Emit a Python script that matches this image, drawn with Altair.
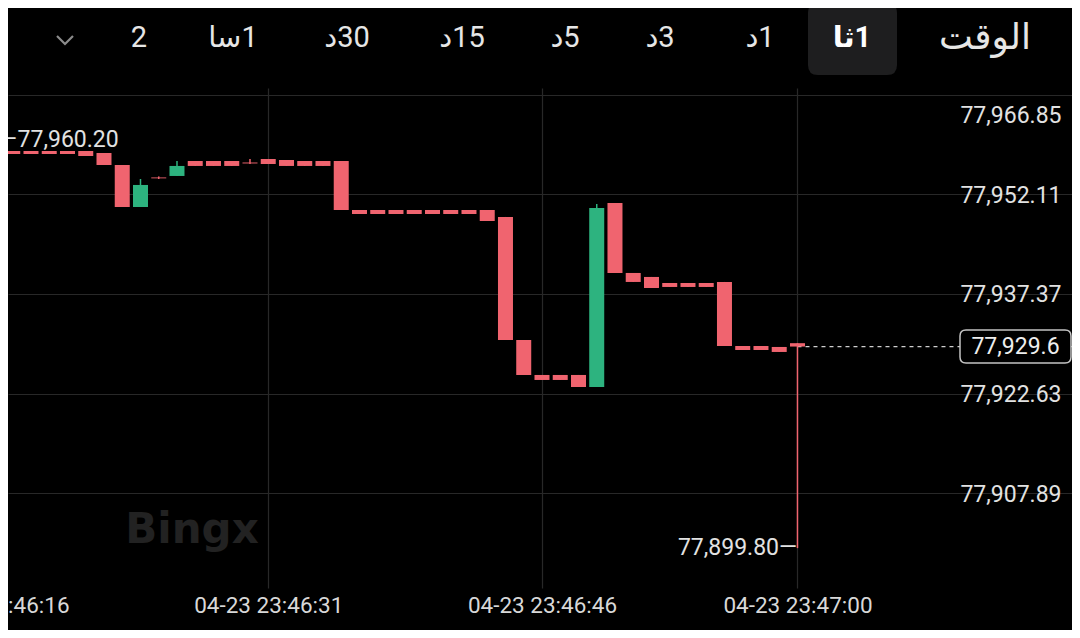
import altair as alt
import pandas as pd

# ---------------- data ----------------
DAY = "2024-04-23"
times = [
    "23:46:17", "23:46:18", "23:46:19", "23:46:20", "23:46:21", "23:46:22",
    "23:46:23", "23:46:24", "23:46:25", "23:46:26", "23:46:27", "23:46:28",
    "23:46:29", "23:46:30", "23:46:31", "23:46:32", "23:46:33", "23:46:34",
    "23:46:35", "23:46:36", "23:46:37", "23:46:38", "23:46:39", "23:46:40",
    "23:46:41", "23:46:42", "23:46:43", "23:46:44", "23:46:45", "23:46:46",
    "23:46:47", "23:46:48", "23:46:49", "23:46:50", "23:46:51", "23:46:52",
    "23:46:53", "23:46:54", "23:46:55", "23:46:56", "23:46:57", "23:46:58",
    "23:46:59", "23:47:00",
]
opens = [
    77958.51, 77958.51, 77958.51, 77958.51, 77958.51,
    77958.22, 77956.44, 77950.23, 77954.60, 77954.82,
    77957.03, 77957.03, 77957.03, 77956.81, 77957.33,
    77957.18, 77957.03, 77957.03, 77957.03, 77949.79,
    77949.79, 77949.79, 77949.79, 77949.79, 77949.79,
    77949.79, 77949.79, 77948.76, 77930.57, 77925.40,
    77925.40, 77925.40, 77923.62, 77950.83, 77940.48,
    77939.89, 77939.00, 77939.00, 77939.00, 77939.15,
    77929.68, 77929.68, 77929.54, 77930.10,
]
highs = [
    77958.51, 77958.51, 77958.51, 77958.51, 77958.51,
    77958.22, 77956.44, 77954.37, 77954.75, 77957.03,
    77957.03, 77957.03, 77957.03, 77957.33, 77957.33,
    77957.18, 77957.03, 77957.03, 77957.03, 77949.79,
    77949.79, 77949.79, 77949.79, 77949.79, 77949.79,
    77949.79, 77949.79, 77948.76, 77930.57, 77925.40,
    77925.40, 77925.40, 77950.68, 77950.83, 77940.48,
    77939.89, 77939.00, 77939.00, 77939.00, 77939.15,
    77929.68, 77929.68, 77929.54, 77930.10,
]
lows = [
    77958.07, 77958.07, 77958.07, 77958.07, 77957.77,
    77956.44, 77950.23, 77950.23, 77954.37, 77954.82,
    77956.30, 77956.30, 77956.30, 77956.59, 77956.59,
    77956.30, 77956.30, 77956.30, 77949.79, 77949.20,
    77949.20, 77949.20, 77949.20, 77949.20, 77949.20,
    77949.20, 77948.16, 77930.57, 77925.40, 77924.66,
    77924.66, 77923.62, 77923.62, 77940.48, 77939.15,
    77938.26, 77938.41, 77938.41, 77938.41, 77929.68,
    77929.09, 77929.09, 77928.80, 77899.80,
]
closes = [
    77958.07, 77958.07, 77958.07, 77958.07, 77957.77,
    77956.44, 77950.23, 77953.49, 77954.47, 77956.30,
    77956.30, 77956.30, 77956.30, 77956.67, 77956.59,
    77956.30, 77956.30, 77956.30, 77949.79, 77949.20,
    77949.20, 77949.20, 77949.20, 77949.20, 77949.20,
    77949.20, 77948.16, 77930.57, 77925.40, 77924.66,
    77924.66, 77923.62, 77950.09, 77940.48, 77939.15,
    77938.26, 77938.41, 77938.41, 77938.41, 77929.68,
    77929.09, 77929.09, 77928.80, 77929.60,
]

price_ticks = [77907.89, 77922.63, 77937.37, 77952.11, 77966.85]
time_ticks = ["23:46:16", "23:46:31", "23:46:46", "23:47:00"]

high_mark = {"t": "23:46:16", "p": 77960.20}
low_mark = {"t": "23:47:00", "p": 77899.80}
last_price = {"t": "23:47:00", "p": 77929.6}

tab_labels = ["الوقت", "1ثا", "1د", "3د", "5د", "15د", "30د", "1سا", "2"]
active_tab = "1ثا"
watermark = "Bingx"

# ---------------- styling / layout ----------------
RED = "#f0646f"
GREEN = "#2db37f"
GRID = "#282828"
TXT = "#e2e2e2"
W, H = 1064, 500
TOP = 80


def dt(s, ms=0):
    hh, mm, ss = (int(v) for v in s.split(":"))
    return alt.DateTime(year=2024, month=4, date=23, hours=hh, minutes=mm,
                        seconds=ss, milliseconds=ms)


XSCALE = alt.Scale(domain=[dt("23:46:15", 500), dt("23:47:14", 770)],
                   range=[-27.63, W])
YSCALE = alt.Scale(domain=[77893.905, 77967.825], zero=False, nice=False)

XAXIS = alt.Axis(values=[dt(s) for s in time_ticks], format="%m-%d %H:%M:%S",
                 formatType="time", title=None, ticks=False, domain=False,
                 grid=True, gridColor=GRID, gridWidth=1.2, labelColor="#d8d8d8",
                 labelFont="Roboto", labelFontSize=22.5, labelPadding=6,
                 labelOverlap=False)
YAXIS = alt.Axis(values=price_ticks, format=",.2f", orient="right", title=None,
                 ticks=False, tickSize=0, domain=False, grid=True,
                 gridColor=GRID, gridWidth=1.2, labelAlign="right",
                 labelBaseline="middle", labelPadding=-11, labelColor=TXT,
                 labelFont="Roboto", labelFontSize=23, labelOverlap=False,
                 labelOffset={"condition": {"test": "datum.value > 77960",
                                            "value": 21}, "value": 1})


def X(f="t"):
    return alt.X(f"{f}:T", scale=XSCALE, axis=XAXIS)


def Y(f):
    return alt.Y(f"{f}:Q", scale=YSCALE, axis=YAXIS)


df = pd.DataFrame({
    "t": [f"{DAY}T{s}" for s in times],
    "o": opens, "h": highs, "l": lows, "c": closes,
})
df["dir"] = ["up" if c >= o else "down" for o, c in zip(opens, closes)]
COLOR = alt.Color("dir:N", scale=alt.Scale(domain=["up", "down"],
                                           range=[GREEN, RED]), legend=None)


def one(d):
    return pd.DataFrame({"t": [f"{DAY}T{d['t']}"], "p": [d["p"]]})


# last price dashed line (under candles)
last_line = alt.Chart(one(last_price)).mark_rule(
    color="#cfcfcf", strokeDash=[4, 4], strokeWidth=1.3
).encode(x=X(), x2=alt.value("width"), y=Y("p"))

wicks = alt.Chart(df).mark_rule(strokeWidth=1.5).encode(
    x=X(), y=Y("l"), y2="h", color=COLOR)
bodies = alt.Chart(df).mark_bar(width=15).encode(
    x=X(), y=Y("o"), y2="c", color=COLOR)

high_txt = alt.Chart(one(high_mark)).transform_calculate(
    label="'–' + format(datum.p, ',.2f')"
).mark_text(align="left", baseline="middle", dx=8, fontSize=23,
            font="Roboto", color=TXT).encode(x=X(), y=Y("p"), text="label:N")

low_txt = alt.Chart(one(low_mark)).transform_calculate(
    label="format(datum.p, ',.2f') + '—'"
).mark_text(align="right", baseline="middle", dx=-0.5, fontSize=23,
            font="Roboto", color=TXT).encode(x=X(), y=Y("p"), text="label:N")

BOX = ("M-0.892,-0.2973 L0.892,-0.2973 Q1,-0.2973 1,-0.189 L1,0.189 "
       "Q1,0.2973 0.892,0.2973 L-0.892,0.2973 Q-1,0.2973 -1,0.189 "
       "L-1,-0.189 Q-1,-0.2973 -0.892,-0.2973 Z")
last_box = alt.Chart(one(last_price)).mark_point(
    shape=BOX, size=12321, filled=True, fill="#000000", stroke="#c4c4c4",
    strokeWidth=1.5, opacity=1
).encode(x=alt.value(1007.5), y=Y("p"))
last_txt = alt.Chart(one(last_price)).transform_calculate(
    label="format(datum.p, ',.1f')"
).mark_text(align="center", baseline="middle", fontSize=23, font="Roboto",
            color="#eeeeee").encode(x=alt.value(1007.5), y=Y("p"),
                                    text="label:N")

wm = alt.Chart(pd.DataFrame({"w": [watermark]})).mark_text(
    font="DejaVu Sans", fontWeight="bold", fontSize=42, color="#222222",
    align="center", baseline="middle"
).encode(x=alt.value(184), y=alt.value(522 - TOP), text="w:N")

# header
TAB = ("M-0.775,-0.809 L0.775,-0.809 Q1,-0.809 1,-0.584 L1,0.584 "
       "Q1,0.809 0.775,0.809 L-0.775,0.809 Q-1,0.809 -1,0.584 "
       "L-1,-0.584 Q-1,-0.809 -0.775,-0.809 Z")
tab_x = [977, 844, 752, 652, 557, 454, 339, 225, 131]
tab_size = [36, 29, 29, 29, 29, 29, 29, 29, 29]
header = [
    alt.Chart(pd.DataFrame({"k": [0]})).mark_point(
        shape=TAB, size=7921, filled=True, fill="#1e1e1f", strokeWidth=0,
        opacity=1
    ).encode(x=alt.value(844.5), y=alt.value(31 - TOP)),
    alt.Chart(pd.DataFrame({"k": [0]})).mark_point(
        shape="M-1,-0.5 L0,0.5 L1,-0.5", size=256, filled=False,
        stroke="#8c8c8c", strokeWidth=2.2, opacity=1
    ).encode(x=alt.value(57), y=alt.value(32 - TOP)),
]
for lbl, xp, fs in zip(tab_labels, tab_x, tab_size):
    bold = lbl == active_tab
    header.append(
        alt.Chart(pd.DataFrame({"label": ["\u200f" + lbl]})).mark_text(
            fontSize=fs, font="Roboto, DejaVu Sans",
            fontWeight="bold" if bold else "normal",
            color="#ffffff" if bold else "#e6e6e6",
            align="center", baseline="middle"
        ).encode(x=alt.value(xp), y=alt.value(30 - TOP), text="label:N")
    )

chart = alt.layer(
    last_line, wicks, bodies, high_txt, low_txt, last_box, last_txt, wm,
    *header
).properties(
    width=W, height=H,
    autosize=alt.AutoSizeParams(type="none"),
    padding={"left": 0, "top": TOP, "right": 0, "bottom": 42},
    background="#000000",
).configure(font="Roboto").configure_view(stroke=None)

chart.save("out.html", embed_options={"renderer": "svg", "actions": False})
